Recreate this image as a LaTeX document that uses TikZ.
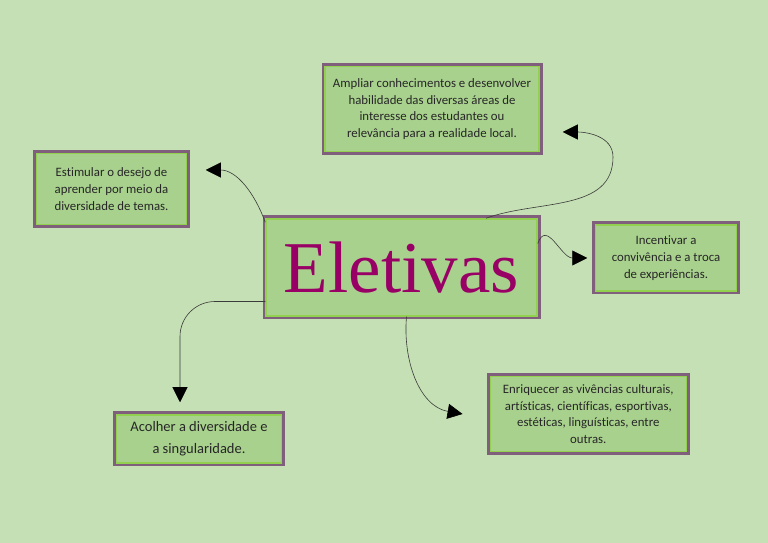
\documentclass[tikz,border=0pt]{standalone}
\usepackage{fontspec}
\setmainfont{Carlito}[Ligatures={NoCommon}]
\newfontfamily\titlefont{Liberation Serif}
\usetikzlibrary{arrows.meta}

\definecolor{paper}{HTML}{C5E0B4}
\definecolor{boxfill}{HTML}{A9D18E}
\definecolor{boxedge}{HTML}{92D050}
\definecolor{boxrim}{HTML}{7F5F7B}
\definecolor{titlecol}{HTML}{990066}
\definecolor{linkcol}{HTML}{3A3A3A}

\begin{document}
\begin{tikzpicture}[x=1pt, y=1pt,
    card/.style={rectangle, fill=boxfill, draw=boxedge, line width=1.5pt,
        preaction={draw=boxrim, line width=7pt},
        align=center, text=black!85, inner sep=2pt,
        font=\fontsize{12.8}{16.7}\selectfont},
    link/.style={draw=linkcol, line width=0.6pt,
        -{Triangle[length=15pt, width=15pt, color=black]}}]

    % Background
    \fill[paper] (0,0) rectangle (768,543);
    \useasboundingbox (0,0) rectangle (768,543);

    % Central topic
    \node[card, minimum width=271, minimum height=97, text=titlecol,
        font=\titlefont\fontsize{73}{80}\selectfont] (main) at (401.5,275.5) {Eletivas};

    % Goals
    \node[card, minimum width=214, minimum height=85] (ampliar) at (432,434)
        {Ampliar conhecimentos e desenvolver\\habilidade das diversas áreas de\\interesse dos estudantes ou\\relevância para a realidade local.};
    \node[card, minimum width=150, minimum height=71] (estimular) at (111.5,354)
        {Estimular o desejo de\\aprender por meio da\\diversidade de temas.};
    \node[card, minimum width=141, minimum height=66] (incentivar) at (666,285)
        {Incentivar a\\convivência e a troca\\de experiências.};
    \node[card, minimum width=165, minimum height=48,
        font=\fontsize{14.5}{21.7}\selectfont] (acolher) at (199,104)
        {Acolher a diversidade e\\a singularidade.};
    \node[card, minimum width=196, minimum height=75] (enriquecer) at (588.3,129)
        {Enriquecer as vivências culturais,\\artísticas, científicas, esportivas,\\estéticas, linguísticas, entre\\outras.};

    % Connectors
    \coordinate (bendA) at (613,386);
    \draw[link] ([xshift=84.5]main.north) to[out=20, in=-90] (bendA)
        to[out=90, in=0] ([xshift=23,yshift=-23]ampliar.east);
    \draw[link] ([yshift=-4]main.north west) to[out=110, in=0]
        ([xshift=18.5,yshift=19]estimular.east);
    \draw[link] ([yshift=24]main.east) to[out=70, in=180, looseness=1.3]
        ([xshift=-7.5]incentivar.west);
    \draw[link, rounded corners=35pt] ([yshift=-34]main.west) -|
        ([xshift=-19,yshift=12]acolher.north);
    \draw[link] ([xshift=5]main.south) to[out=-95, in=170]
        ([xshift=-27]enriquecer.west);
\end{tikzpicture}
\end{document}
